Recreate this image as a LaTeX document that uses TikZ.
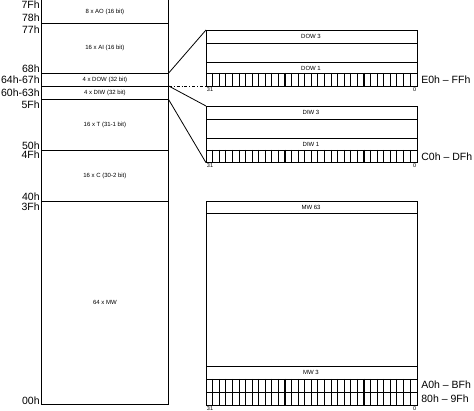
\documentclass[tikz,border=0pt]{standalone}
\usepackage{fontspec}
\setmainfont{Liberation Sans}
\tikzset{
  addr/.style={anchor=east,inner sep=0pt,font=\fontsize{10.5}{12}\selectfont},
  addrrange/.style={anchor=west,inner sep=0pt,font=\fontsize{10.5}{12}\selectfont},
  celltext/.style={inner sep=0pt,font=\fontsize{6}{7}\selectfont},
  seg/.style={draw,anchor=north west,inner sep=0pt,minimum width=127pt,font=\fontsize{6}{7}\selectfont},
  regbox/.style={draw,anchor=north west,inner sep=0pt,minimum width=210.5pt},
  bitno/.style={inner sep=0.6pt,font=\fontsize{5.5}{6}\selectfont},
}
% 32 bit cells between two heights
\newcommand{\bitrow}[2]{%
  \foreach \k in {1,...,31} \draw ({206+\k*6.578},#1) -- ({206+\k*6.578},#2);
  \foreach \k in {10,12,24} \draw[line width=1.3pt] ({206+\k*6.578},#1) -- ({206+\k*6.578},#2);
}
\begin{document}
\begin{tikzpicture}[x=1pt,y=-1pt,line width=0.7pt]
  \useasboundingbox (0,0) rectangle (474,411);
  % memory column
  \node[seg,draw=none,minimum height=23pt] (ao) at (41,0) {8 x AO (16 bit)};
  \draw (ao.north west) -- (ao.south west) (ao.north east) -- (ao.south east);
  \node[seg,minimum height=50pt] (ai) at (41,23) {16 x AI (16 bit)};
  \node[seg,minimum height=13pt] (dow) at (41,73) {4 x DOW (32 bit)};
  \node[seg,minimum height=13pt] (diw) at (41,86) {4 x DIW (32 bit)};
  \node[seg,minimum height=51pt] (tim) at (41,99) {16 x T (31-1 bit)};
  \node[seg,minimum height=51pt] (cnt) at (41,150) {16 x C (30-2 bit)};
  \node[seg,minimum height=203pt] (mw) at (41,201) {64 x MW};
  \draw[line width=1.4pt] (tim.south west) -- (tim.south east);
  % addresses
  \draw
    (40,5) node[addr] (a7f){7Fh}
    (40,17.5) node[addr] (a78){78h}
    (40,30) node[addr] (a77){77h}
    (40,69) node[addr] (a68){68h}
    (40,80) node[addr] (a64){64h-67h}
    (40,92.5) node[addr] (a60){60h-63h}
    (40,104.5) node[addr] (a5f){5Fh}
    (40,145.5) node[addr] (a50){50h}
    (40,155) node[addr] (a4f){4Fh}
    (40,196.5) node[addr] (a40){40h}
    (40,206.5) node[addr] (a3f){3Fh}
    (40,401) node[addr] (a00){00h};
  % DOW
  \node[regbox,minimum height=56pt] (dowbox) at (206,30) {};
  \draw (206,43) -- (416.5,43) (206,62) -- (416.5,62) (206,73) -- (416.5,73);
  \bitrow{73}{86}
  \node[celltext] (dow3) at (311,36.5) {DOW 3};
  \node[celltext] (dow1) at (311,68) {DOW 1};
  \node[bitno,anchor=north west] (dowmsb) at (dowbox.south west) {31};
  \node[bitno,anchor=north east] (dowlsb) at (dowbox.south east) {0};
  \node[addrrange] (dowr) at (421,80) {E0h \textendash{} FFh};
  % DIW
  \node[regbox,minimum height=56pt] (diwbox) at (206,106) {};
  \draw (206,119) -- (416.5,119) (206,138) -- (416.5,138) (206,150) -- (416.5,150);
  \bitrow{150}{162}
  \node[celltext] (diw3) at (311,112) {DIW 3};
  \node[celltext] (diw1) at (311,144) {DIW 1};
  \node[bitno,anchor=north west] (diwmsb) at (diwbox.south west) {31};
  \node[bitno,anchor=north east] (diwlsb) at (diwbox.south east) {0};
  \node[addrrange] (diwr) at (421,156.5) {C0h \textendash{} DFh};
  % MW
  \node[regbox,minimum height=203.5pt] (mwbox) at (206,201.5) {};
  \draw (206,213.5) -- (416.5,213.5) (206,366) -- (416.5,366) (206,379) -- (416.5,379) (206,392) -- (416.5,392);
  \bitrow{379}{405}
  \node[celltext] (mw63) at (311,207.5) {MW 63};
  \node[celltext] (mw3) at (311,372.5) {MW 3};
  \node[bitno,anchor=north west] (mwmsb) at (mwbox.south west) {31};
  \node[bitno,anchor=north east] (mwlsb) at (mwbox.south east) {0};
  \node[addrrange] (mwhi) at (421,385) {A0h \textendash{} BFh};
  \node[addrrange] (mwlo) at (421,398.5) {80h \textendash{} 9Fh};
  % zoom lines
  \begin{scope}[line width=0.8pt]
    \draw (dow.north east) to (dowbox.north west);
    \draw[dash dot] (dow.south east) to (dowbox.south west);
    \draw (diw.north east) to (diwbox.north west);
    \draw (diw.south east) to (diwbox.south west);
  \end{scope}
\end{tikzpicture}
\end{document}
